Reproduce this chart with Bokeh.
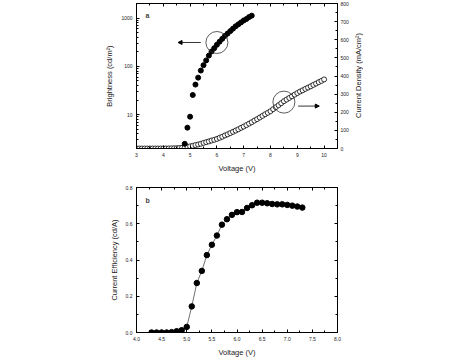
import math
from bokeh.plotting import figure
from bokeh.models import (Range1d, LinearAxis, LinearScale, SingleIntervalTicker, LogTicker,
                          PrintfTickFormatter, CustomJSTickFormatter, Label, Arrow, NormalHead, Div)
from bokeh.layouts import column, row
from bokeh.embed import file_html
from bokeh.resources import INLINE

# ---------------- data ----------------
# (a) brightness (filled dots, left log axis)
volt_b = [4.8, 4.9, 5.0, 5.1, 5.2, 5.3, 5.4, 5.5, 5.6, 5.7, 5.8, 5.9, 6.0,
          6.1, 6.2, 6.3, 6.4, 6.5, 6.6, 6.7, 6.8, 6.9, 7.0, 7.1, 7.2, 7.3]
brightness = [2.5, 5.4, 9.1, 25.6, 42, 58.5, 82, 106, 133, 167, 203, 238, 280,
              324, 372, 427, 479, 537, 603, 676, 741, 813, 891, 955, 1047, 1122]

# (a) current density (open circles, right axis)
volt_j = [3.0, 3.1, 3.2, 3.3, 3.4, 3.5, 3.6, 3.7, 3.8, 3.9,
          4.0, 4.1, 4.2, 4.3, 4.4, 4.5, 4.6, 4.7, 4.8, 4.9,
          5.0, 5.1, 5.2, 5.3, 5.4, 5.5, 5.6, 5.7, 5.8, 5.9,
          6.0, 6.1, 6.2, 6.3, 6.4, 6.5, 6.6, 6.7, 6.8, 6.9,
          7.0, 7.1, 7.2, 7.3, 7.4, 7.5, 7.6, 7.7, 7.8, 7.9,
          8.0, 8.1, 8.2, 8.3, 8.4, 8.5, 8.6, 8.7, 8.8, 8.9,
          9.0, 9.1, 9.2, 9.3, 9.4, 9.5, 9.6, 9.7, 9.8, 9.9, 10.0]
current_density = [0, 0, 0, 0, 0, 0, 0, 0, 0, 0,
                   0.2, 0.3, 0.5, 0.8, 1.2, 1.8, 2.8, 4, 6, 9,
                   12, 15, 19, 22, 26, 31, 35, 39, 44, 48,
                   53, 59, 65, 72, 78, 85, 92, 99, 106, 114,
                   121, 129, 137, 145, 154, 162, 171, 180, 189, 197,
                   206, 217, 228, 239, 250, 261, 270, 279, 288, 297,
                   306, 314, 321, 329, 336, 343, 351, 358, 366, 373, 381]

# (b) current efficiency
volt_e = [4.3, 4.4, 4.5, 4.6, 4.7, 4.8, 4.9, 5.0, 5.1, 5.2, 5.3, 5.4, 5.5, 5.6, 5.7,
          5.8, 5.9, 6.0, 6.1, 6.2, 6.3, 6.4, 6.5, 6.6, 6.7, 6.8, 6.9, 7.0, 7.1, 7.2, 7.3]
efficiency = [0, 0, 0, 0, 0.002, 0.007, 0.013, 0.031, 0.144, 0.273, 0.34, 0.427, 0.484,
              0.535, 0.595, 0.625, 0.649, 0.664, 0.665, 0.687, 0.702, 0.716, 0.716,
              0.713, 0.709, 0.707, 0.707, 0.704, 0.700, 0.695, 0.689]

FONT = "Liberation Sans"
TICK_FS = "5px"
TITLE_FS = "7.5px"


def style_axis(ax, labels=True, title=None, standoff=4):
    ax.major_tick_in = 3
    ax.major_tick_out = 0
    ax.minor_tick_in = 2
    ax.minor_tick_out = 0
    ax.axis_line_color = "black"
    ax.major_tick_line_color = "black"
    ax.minor_tick_line_color = "black"
    ax.major_label_text_font = FONT
    ax.major_label_text_font_size = TICK_FS
    ax.major_label_text_color = "#222222"
    ax.major_label_standoff = 4 if labels else 0
    if not labels:
        ax.formatter = CustomJSTickFormatter(code="return ''")
    if title is not None:
        ax.axis_label = title
    ax.axis_label_text_font = FONT
    ax.axis_label_text_font_size = TITLE_FS
    ax.axis_label_text_font_style = "normal"
    ax.axis_label_text_color = "#222222"
    ax.axis_label_standoff = standoff


# ---------------- figure a ----------------
p1 = figure(width=352, height=179, x_range=Range1d(3, 10.5), y_range=Range1d(2, 2000),
            y_axis_type="log", output_backend="svg", toolbar_location=None,
            min_border_left=136, min_border_right=15, min_border_top=3, min_border_bottom=31)
p1.extra_y_ranges = {"jd": Range1d(0, 800)}
p1.extra_y_scales = {"jd": LinearScale()}
p1.grid.visible = False
p1.outline_line_color = "black"
p1.background_fill_color = "white"

p1.xaxis.ticker = SingleIntervalTicker(interval=1, num_minor_ticks=2)
style_axis(p1.xaxis[0], True, "Voltage (V)", 4)
p1.yaxis.ticker = LogTicker(mantissas=[1], num_minor_ticks=10)
p1.yaxis.formatter = PrintfTickFormatter(format="%d")
style_axis(p1.yaxis[0], True, "Brightness (cd/m\u00b2)", 4)

right1 = LinearAxis(y_range_name="jd", ticker=SingleIntervalTicker(interval=100, num_minor_ticks=2))
style_axis(right1, True, None)
right1.major_label_standoff = 3
p1.add_layout(right1, "right")
top1 = LinearAxis(ticker=SingleIntervalTicker(interval=1, num_minor_ticks=2))
style_axis(top1, False, None)
p1.add_layout(top1, "above")

p1.scatter(volt_j, current_density, y_range_name="jd", marker="circle", size=5,
           fill_color="white", line_color="black", line_width=0.8)
p1.scatter(volt_b, brightness, marker="circle", size=5, fill_color="black", line_color="black")

# annotations (circles + arrows)
p1.scatter([6.0], [312], marker="circle", size=22, fill_color=None, line_color="#333333", line_width=0.8)
p1.add_layout(Arrow(end=NormalHead(size=4, fill_color="black", line_color="black"),
                    x_start=5.4, y_start=312, x_end=4.55, y_end=312, line_width=0.8))
p1.scatter([8.5], [256], y_range_name="jd", marker="circle", size=22, fill_color=None,
           line_color="#333333", line_width=0.8)
p1.add_layout(Arrow(end=NormalHead(size=4, fill_color="black", line_color="black"),
                    x_start=9.03, y_start=234, x_end=9.82, y_end=234, y_range_name="jd",
                    line_width=0.8))
p1.add_layout(Label(x=3.41, y=1115, text="a", text_font=FONT, text_font_size="7px",
                    text_font_style="bold", text_align="center", text_baseline="middle"))

# right axis title (reads bottom-to-top as in the original)
right_title = Div(
    text=('<div style="writing-mode: vertical-rl; transform: rotate(180deg); '
          'font-family: \'Liberation Sans\'; font-size: 7.5px; color: #222222; '
          'white-space: nowrap; height: 145px; margin-top: 3px; text-align: center; '
          'line-height: 14px; width: 14px;">Current Density (mA/cm\u00b2)</div>'),
    width=14, height=179, margin=0)

# ---------------- figure b ----------------
p2 = figure(width=466, height=180, x_range=Range1d(4, 8), y_range=Range1d(0, 0.8),
            output_backend="svg", toolbar_location=None,
            min_border_left=136, min_border_right=129, min_border_top=8, min_border_bottom=25)
p2.grid.visible = False
p2.outline_line_color = "black"

p2.xaxis.ticker = SingleIntervalTicker(interval=0.5, num_minor_ticks=2)
p2.xaxis.formatter = PrintfTickFormatter(format="%.1f")
style_axis(p2.xaxis[0], True, "Voltage (V)", 4)
p2.yaxis.ticker = SingleIntervalTicker(interval=0.2, num_minor_ticks=2)
p2.yaxis.formatter = PrintfTickFormatter(format="%.1f")
style_axis(p2.yaxis[0], True, "Current Efficiency (cd/A)", 4)
right2 = LinearAxis(ticker=SingleIntervalTicker(interval=0.2, num_minor_ticks=2))
style_axis(right2, False, None)
p2.add_layout(right2, "right")
top2 = LinearAxis(ticker=SingleIntervalTicker(interval=0.5, num_minor_ticks=2))
style_axis(top2, False, None)
p2.add_layout(top2, "above")

p2.line(volt_e, efficiency, line_color="#333333", line_width=0.7)
p2.scatter(volt_e, efficiency, marker="circle", size=5.5, fill_color="black", line_color="black")
p2.add_layout(Label(x=4.22, y=0.73, text="b", text_font=FONT, text_font_size="7px",
                    text_font_style="bold", text_align="center", text_baseline="middle"))

layout = column(row(p1, right_title, spacing=0), p2, spacing=0)
open("out.html", "w").write(file_html(layout, INLINE))
